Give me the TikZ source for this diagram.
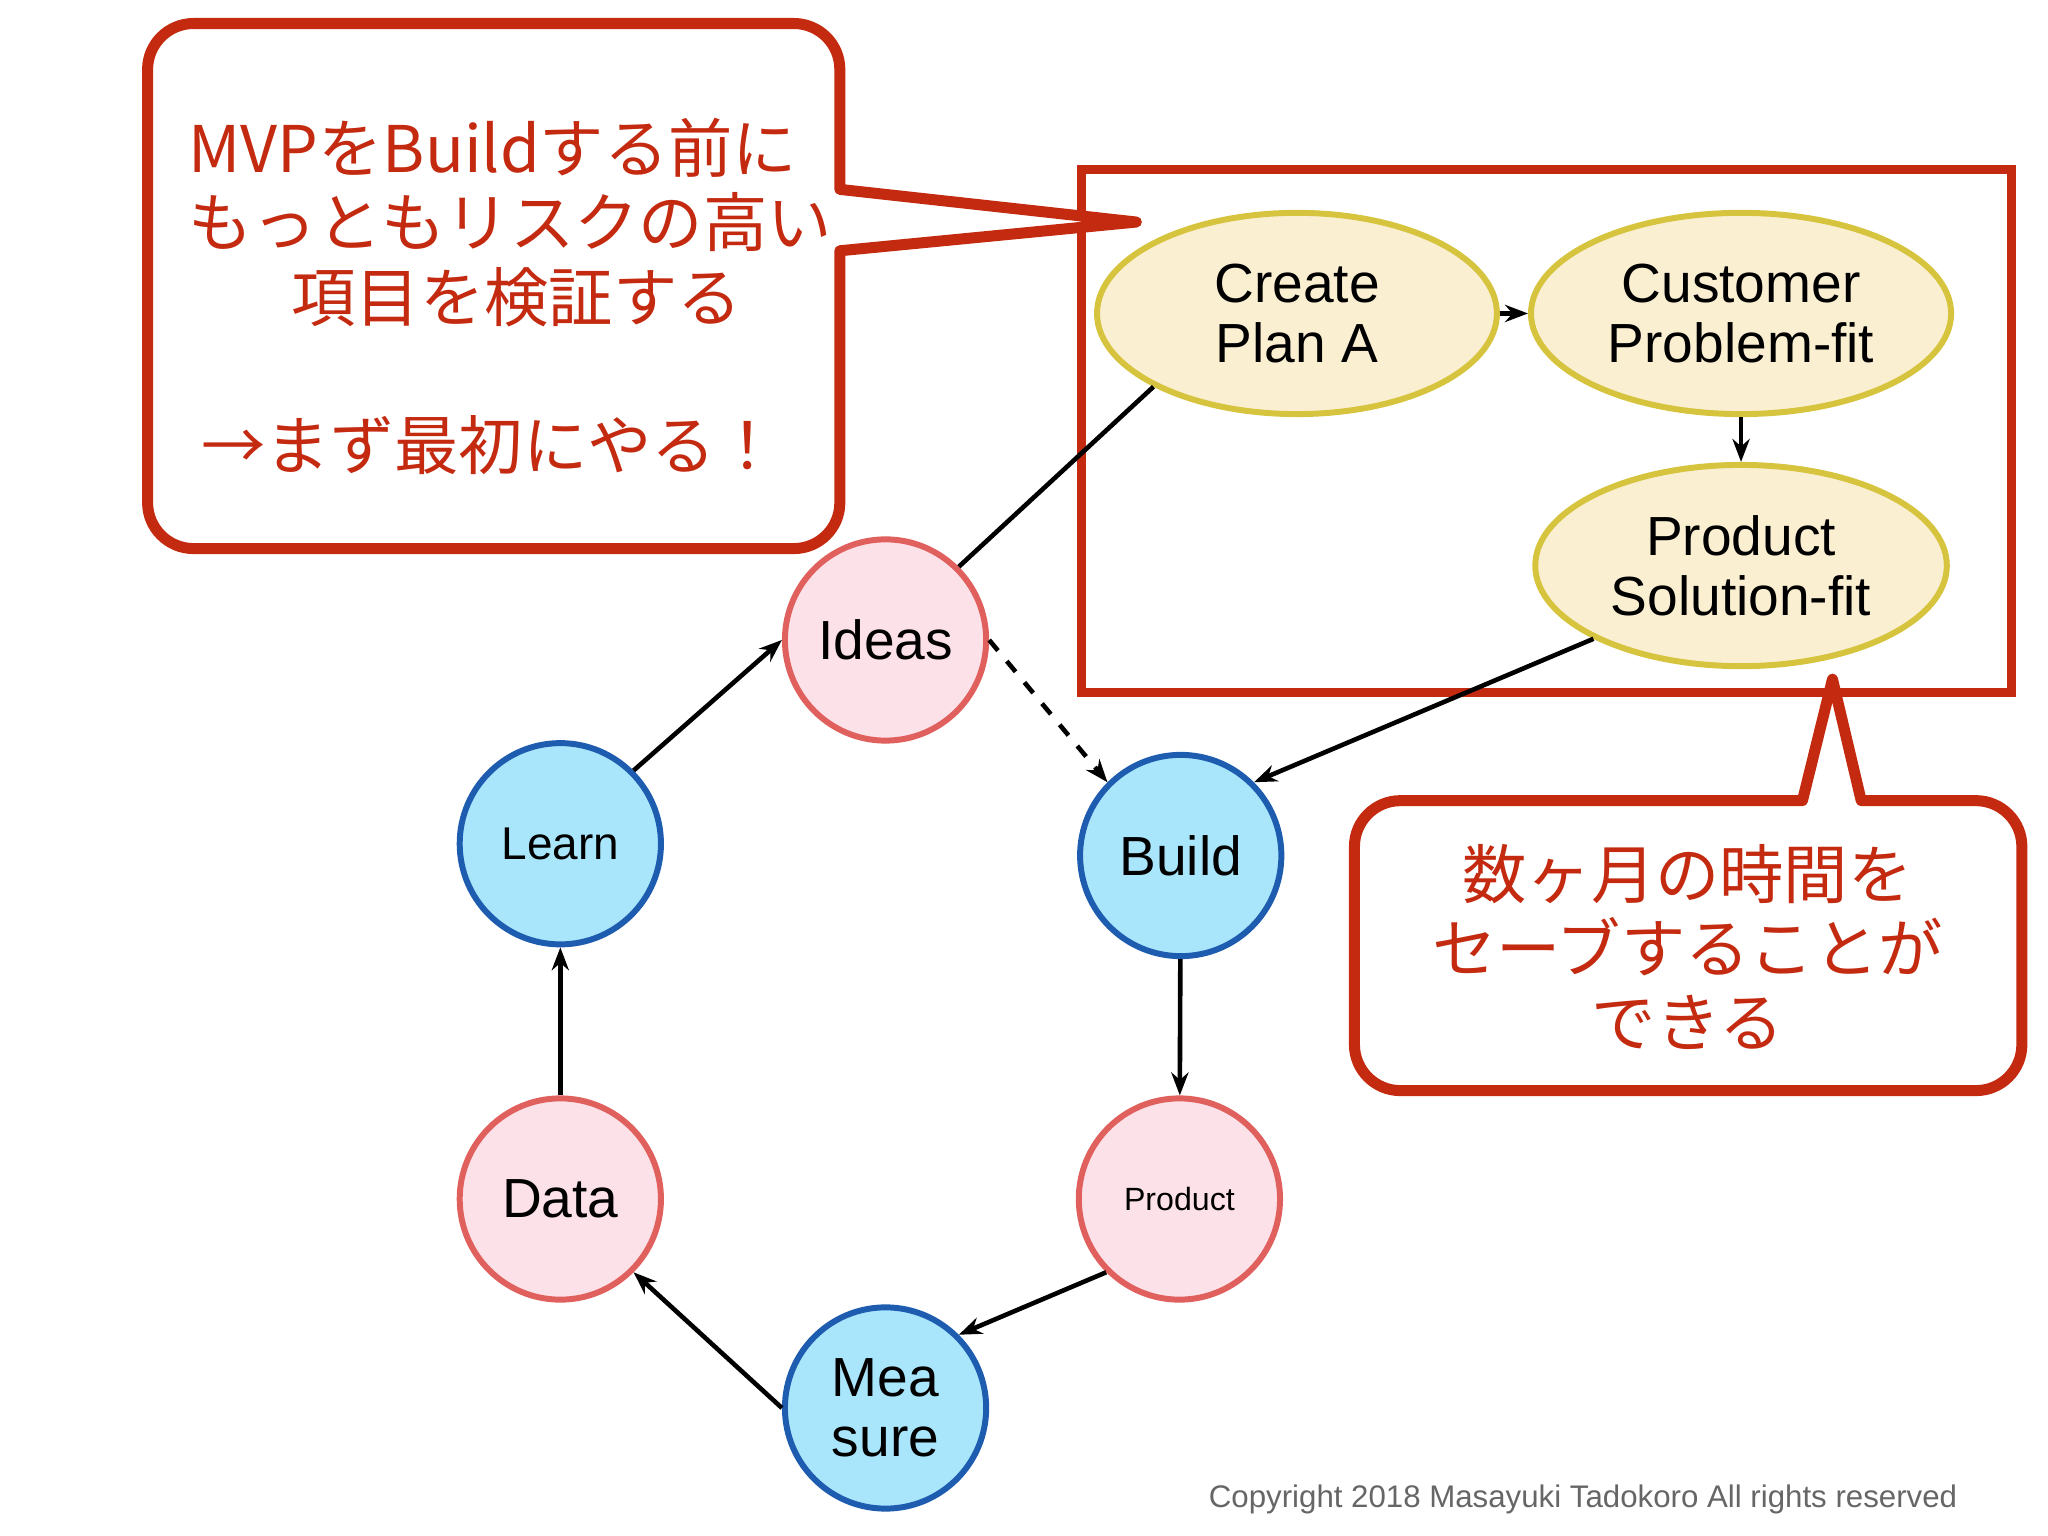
\documentclass[tikz,border=0pt]{standalone}
\usepackage{fontspec}
\setmainfont{Liberation Sans}
\newfontfamily\jp{Noto Sans CJK JP}
\usetikzlibrary{shapes.geometric, arrows.meta, positioning}
\definecolor{callred}{HTML}{C42A10}
\definecolor{pinkfill}{HTML}{FDE1E8}
\definecolor{pinkdraw}{HTML}{E0605E}
\definecolor{bluefill}{HTML}{A9E6FB}
\definecolor{bluedraw}{HTML}{1E5CB0}
\definecolor{yelfill}{HTML}{FBEFD2}
\definecolor{yeldraw}{HTML}{D6C43E}
\begin{document}
\begin{tikzpicture}[
    x=0.01cm, y=-0.01cm,
    stage/.style={
      circle,
      minimum size=1.54cm,
      line width=1.3pt,
      align=center,
      inner sep=0pt
    },
    pinkstage/.style={stage, fill=pinkfill, draw=pinkdraw},
    bluestage/.style={stage, fill=bluefill, draw=bluedraw},
    plan/.style={
      ellipse,
      minimum width=3.06cm,
      minimum height=1.54cm,
      fill=yelfill,
      draw=yeldraw,
      line width=1.3pt,
      align=center,
      font=\fontsize{12}{13}\selectfont
    },
    callout/.style={
      draw=callred,
      line width=2.4pt,
      fill=white,
      line join=round
    },
    calltext/.style={
      text=callred,
      align=center,
      font=\jp\fontsize{14}{16.2}\selectfont
    },
    arrow/.style={
      -{Stealth[length=5pt]},
      line width=1pt
    }
  ]
  \useasboundingbox (0,0) rectangle (1568,1176);

  % Rahmen
  \draw[callred, line width=2pt] (828,130) rectangle (1540,530);

  % Blasen
  \draw[callout] (643,145) -- (870,170) -- (643,192)
    [rounded corners=10pt] -- (643,420) -- (113,420) -- (113,18) -- (643,18) [sharp corners] -- cycle;
  \draw[callout] (1425,613) -- (1403,520) -- (1380,613)
    [rounded corners=10pt] -- (1037,613) -- (1037,835) -- (1548,835) -- (1548,613) [sharp corners] -- cycle;
  \node[calltext, align=left, anchor=north west] (risk) at (132,78)
    {MVPをBuildする前に\\もっともリスクの高い\\\hspace{1.6em}項目を検証する\\[16pt]\hspace{0.2em}→まず最初にやる！};
  \node[calltext] (save) at (1292,725) {数ヶ月の時間を\\セーブすることが\\できる};

  % Ellipsen
  \node[plan] (planA) at (993,240) {Create\\Plan A};
  \node[plan] (customer) at (1333,240) {Customer\\Problem-fit};
  \node[plan] (solution) at (1333,433) {Product\\Solution-fit};

  % Kreise
  \node[pinkstage, font=\fontsize{12}{13}\selectfont] (ideas) at (678,490) {Ideas};
  \node[bluestage, font=\fontsize{10}{12}\selectfont] (learn) at (429,646) {Learn};
  \node[bluestage, font=\fontsize{12}{13}\selectfont] (build) at (904,655) {Build};
  \node[pinkstage, font=\fontsize{12}{13}\selectfont] (data) at (429,918) {Data};
  \node[pinkstage, font=\fontsize{7}{8}\selectfont] (product) at (903,918) {Product};
  \node[bluestage, font=\fontsize{12}{13}\selectfont] (measure) at (678,1078) {Mea\\sure};

  % Pfeile
  \draw[arrow] (planA) -- (customer);
  \draw[arrow] (customer) -- (solution);
  \draw[line width=1pt] (ideas.north east) -- (planA.south west);
  \draw[arrow, dashed] (ideas.east) -- (build.north west);
  \draw[arrow] (solution.south west) -- (build.north east);
  \draw[arrow] (build) -- (product);
  \draw[arrow] (product.south west) -- (measure.north east);
  \draw[arrow] (measure.west) -- (data.south east);
  \draw[arrow] (data) -- (learn);
  \draw[arrow] (learn.north east) -- (ideas.west);

  \node[text=gray!80!black, font=\fontsize{6.8}{8}\selectfont] (copy) at (1212,1148)
    {Copyright 2018 Masayuki Tadokoro All rights reserved};
\end{tikzpicture}
\end{document}
